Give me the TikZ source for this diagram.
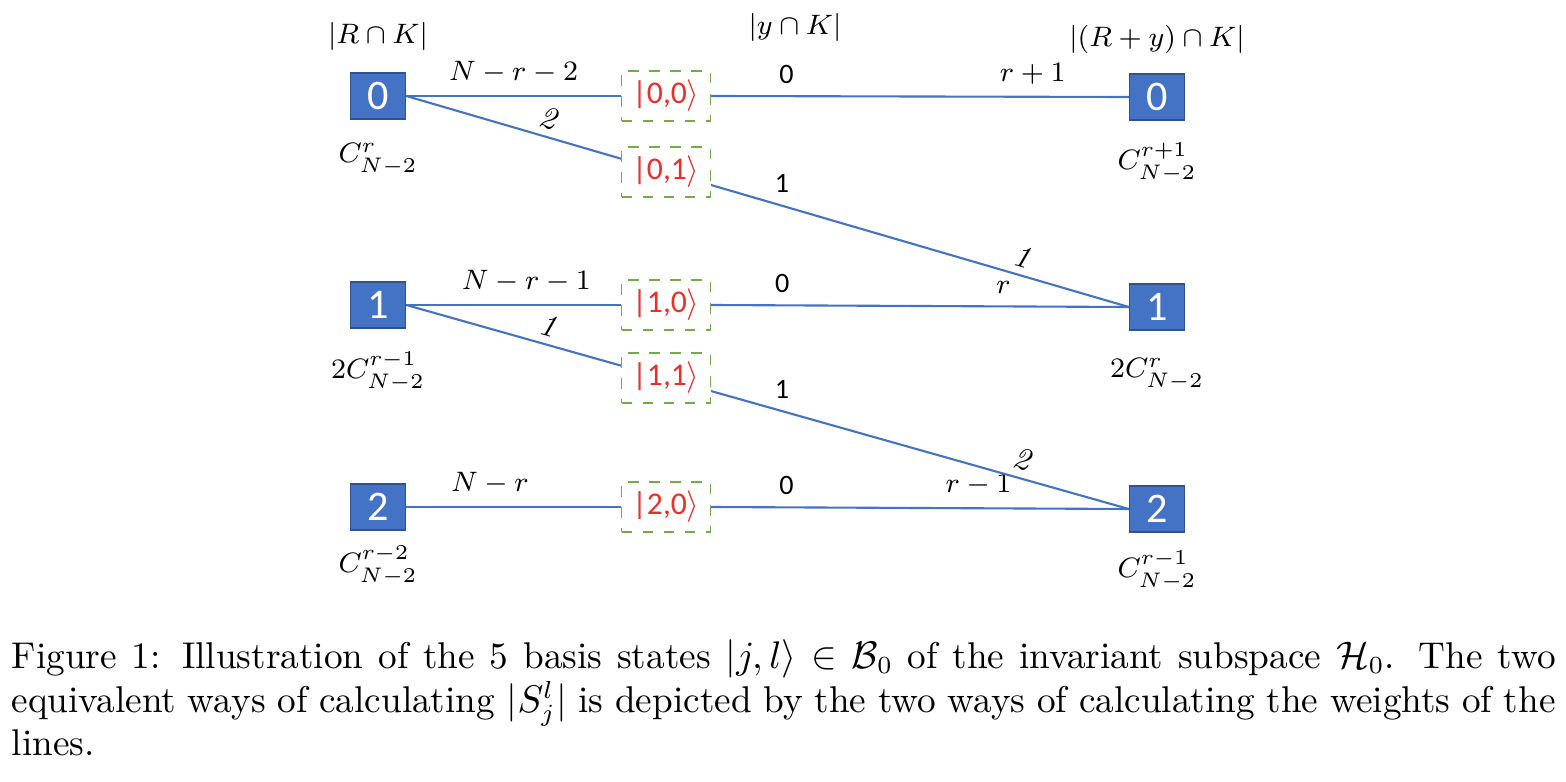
\documentclass[tikz,border=0pt]{standalone}
\usepackage{fontspec}
\usetikzlibrary{positioning}
\newfontfamily\carlito{Carlito}
\definecolor{boxblue}{RGB}{68,114,196}
\definecolor{boxedge}{RGB}{47,82,143}
\definecolor{dashgreen}{RGB}{112,173,71}
\definecolor{statered}{RGB}{232,48,42}
\newcommand\ketjl[1]{\textcolor{statered}{{\carlito|#1}$\rangle$}}
\pgfdeclarelayer{bg}
\pgfsetlayers{bg,main}
\tikzset{
  level/.style={fill=boxblue, draw=boxedge, text=white, minimum width=5.5mm, minimum height=4.6mm, inner sep=0pt, font=\carlito\fontsize{12}{12}\selectfont},
  state/.style={draw=dashgreen, dashed, fill=white, minimum width=8.9mm, minimum height=5mm, inner sep=0pt, font=\fontsize{9}{9}\selectfont},
  wire/.style={boxblue, line width=0.6pt},
  lbl/.style={text=black, font=\fontsize{8}{9.6}\selectfont},
  num/.style={text=black, font=\carlito\fontsize{8}{9.6}\selectfont},
  tilt/.style={text=black, font=\itshape\fontsize{9}{9.6}\selectfont, sloped, inner sep=2pt}
}

\begin{document}
\begin{tikzpicture}[x=0.1mm, y=-0.1mm]
\useasboundingbox (0,0) rectangle (1566,782);

\node[level] (L0) at (378,96) {0};
\node[level] (L1) at (378,305) {1};
\node[level] (L2) at (378,507) {2};
\node[level] (R0) at (1157,97) {0};
\node[level] (R1) at (1157,307) {1};
\node[level] (R2) at (1157,509) {2};

\node[state] (S00) at (666,96) {\ketjl{0,0}};
\node[state] (S01) at (666,172) {\ketjl{0,1}};
\node[state] (S10) at (666,305) {\ketjl{1,0}};
\node[state] (S11) at (666,378) {\ketjl{1,1}};
\node[state] (S20) at (666,507) {\ketjl{2,0}};

\node[lbl, above=0.9mm of L0] (hR) {$|R\cap K|$};
\node[lbl] (hy) at (795,27) {$|y\cap K|$};
\node[lbl, above=0.7mm of R0] (hRy) {$|(R+y)\cap K|$};

\node[lbl, below=1.1mm of L0] (cL0) {$C_{N-2}^{r}$};
\node[lbl, below=1.1mm of L1] (cL1) {$2C_{N-2}^{r-1}$};
\node[lbl, below=0.3mm of L2] (cL2) {$C_{N-2}^{r-2}$};
\node[lbl, below=1mm of R0] (cR0) {$C_{N-2}^{r+1}$};
\node[lbl, below=1.5mm of R1] (cR1) {$2C_{N-2}^{r}$};
\node[lbl, below=0.6mm of R2] (cR2) {$C_{N-2}^{r-1}$};

\begin{pgfonlayer}{bg}
\draw[wire] (L0.east)--(S00.west) node [lbl, above, midway] {$N-r-2$};
\draw[wire] (S00.east)--(R0.west) node [num, above, pos=0.18] {0} node [lbl, above, pos=0.77] {$r+1$};
\draw[wire] (L1.east)--(S10.west) node [lbl, above, pos=0.56] {$N-r-1$};
\draw[wire] (S10.east)--(R1.west) node [num, above, pos=0.17] {0} node [lbl, above, pos=0.7] {$r$};
\draw[wire] (L2.east)--(S20.west) node [lbl, above, pos=0.39] {$N-r$};
\draw[wire] (S20.east)--(R2.west) node [num, above, pos=0.18] {0} node [lbl, above, pos=0.64] {$r-1$};
% the slanted wires pass behind the |j,1> boxes
\draw[wire] (L0.east)--(R1.west) node [tilt, above, pos=0.19] {2} node [num, above, pos=0.52] {1} node [tilt, above, pos=0.845] {1};
\draw[wire] (L1.east)--(R2.west) node [tilt, above, pos=0.19] {1} node [num, above, pos=0.52] {1} node [tilt, above, pos=0.845] {2};
\end{pgfonlayer}

\node[anchor=base west, text width=154.4mm, align=justify, inner sep=0pt, font=\fontsize{10.6}{11.4}\selectfont] (cap) at (11,668)
{Figure 1: Illustration of the 5 basis states $|j,l\rangle\in\mathcal{B}_0$ of the invariant subspace $\mathcal{H}_0$. The two equivalent ways of calculating $|S_j^l|$ is depicted by the two ways of calculating the weights of the lines.};

\end{tikzpicture}
\end{document}
